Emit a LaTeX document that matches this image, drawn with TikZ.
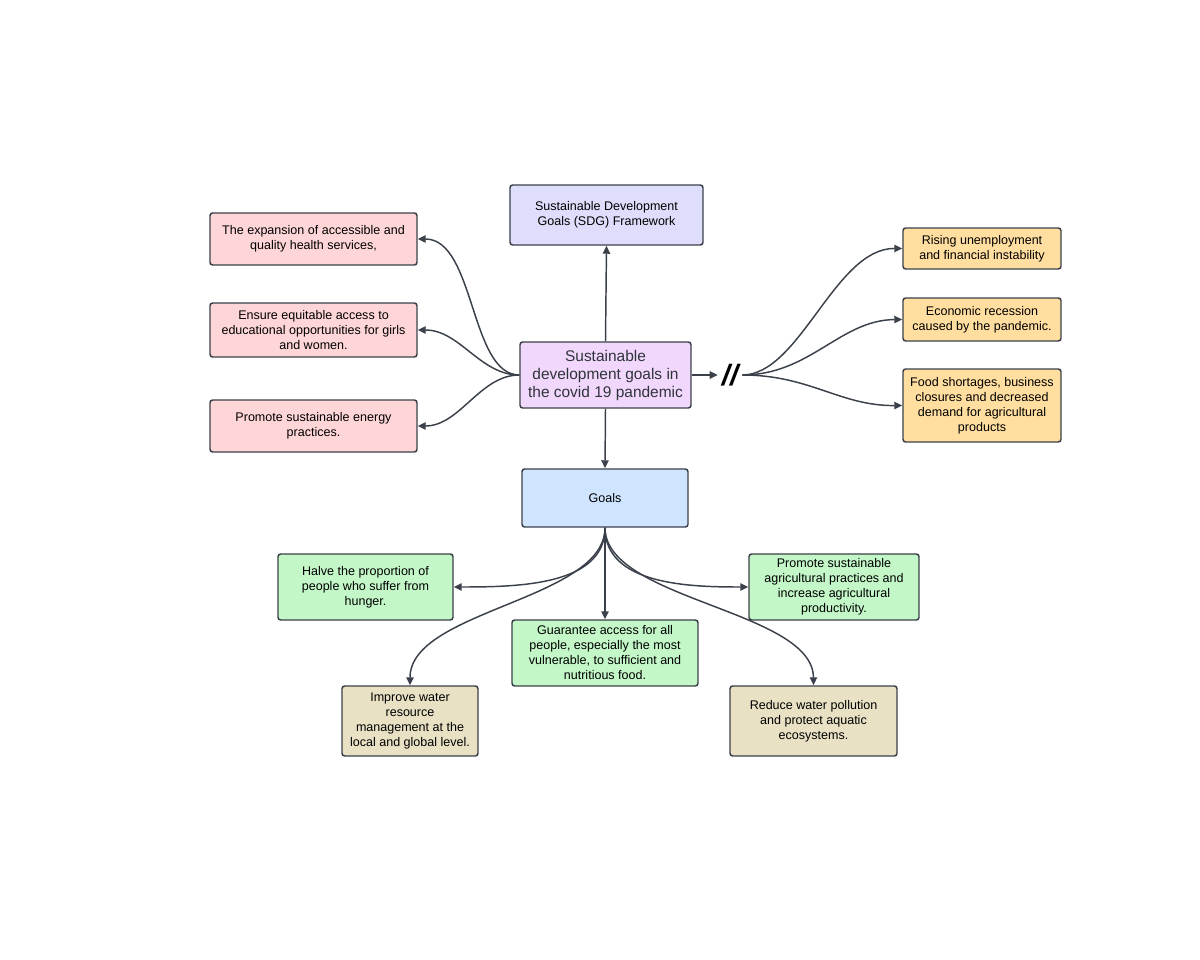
\documentclass[tikz,border=0pt]{standalone}
\usepackage{fontspec}
\setmainfont{Liberation Sans}
\usetikzlibrary{arrows.meta}
\definecolor{ln}{HTML}{3B414A}
\definecolor{cSDG}{HTML}{DEDEFC}
\definecolor{cRed}{HTML}{FFD6D8}
\definecolor{cCen}{HTML}{F2D7FC}
\definecolor{cGoal}{HTML}{CFE4FF}
\definecolor{cOr}{HTML}{FFDEA0}
\definecolor{cGr}{HTML}{C3F7C8}
\definecolor{cTan}{HTML}{E8E1C4}
\tikzset{
  box/.style={draw=ln, line width=1.1pt, rounded corners=2pt, align=center, inner sep=2pt,
    font=\fontsize{9.4}{11.25}\selectfont, text=black},
  conn/.style={draw=ln, line width=1.1pt, -{Triangle[length=6pt,width=5.5pt]}},
}
\begin{document}
\begin{tikzpicture}[x=0.75pt,y=-0.75pt]
\useasboundingbox (0,0) rectangle (1200,960);
\node[box, fill=cSDG, minimum width=144.75pt, minimum height=45pt] (sdg) at (606.5,215) {Sustainable Development\\Goals (SDG) Framework};
\node[box, fill=cRed, minimum width=155.25pt, minimum height=39pt] (r1) at (313.5,239) {The expansion of accessible and\\quality health services,};
\node[box, fill=cRed, minimum width=155.25pt, minimum height=40.5pt] (r2) at (313.5,330) {Ensure equitable access to\\educational opportunities for girls\\and women.};
\node[box, fill=cRed, minimum width=155.25pt, minimum height=39pt] (r3) at (313.5,426) {Promote sustainable energy\\practices.};
\node[box, fill=cCen, minimum width=128.25pt, minimum height=49.5pt, font=\fontsize{11.6}{13.5}\selectfont, text=ln!80!black] (c) at (605.5,375) {Sustainable\\development goals in\\the covid 19 pandemic};
\node[box, fill=cGoal, minimum width=124.5pt, minimum height=43.5pt] (g) at (605,498) {Goals};
\node[box, fill=cOr, minimum width=118.5pt, minimum height=30.75pt] (o1) at (982,248.5) {Rising unemployment\\and financial instability};
\node[box, fill=cOr, minimum width=118.5pt, minimum height=32.25pt] (o2) at (982,319.5) {Economic recession\\caused by the pandemic.};
\node[box, fill=cOr, minimum width=118.5pt, minimum height=54.75pt] (o3) at (982,405.5) {Food shortages, business\\closures and decreased\\demand for agricultural\\products};
\node[box, fill=cGr, minimum width=131.25pt, minimum height=49.5pt] (h) at (365.5,587) {Halve the proportion of\\people who suffer from\\hunger.};
\node[box, fill=cGr, minimum width=139.5pt, minimum height=49.5pt] (gu) at (605,653) {Guarantee access for all\\people, especially the most\\vulnerable, to sufficient and\\nutritious food.};
\node[box, fill=cGr, minimum width=127.5pt, minimum height=49.5pt] (pa) at (834,587) {Promote sustainable\\agricultural practices and\\increase agricultural\\productivity.};
\node[box, fill=cTan, minimum width=102pt, minimum height=52.5pt] (iw) at (410,721) {Improve water\\resource\\management at the\\local and global level.};
\node[box, fill=cTan, minimum width=125.25pt, minimum height=52.5pt] (rw) at (813.5,721) {Reduce water pollution\\and protect aquatic\\ecosystems.};
\node[inner sep=0pt, minimum width=18pt, minimum height=18pt, text=black] (brk) at (730,375) {\raisebox{-1.5pt}{\fontsize{22}{22}\selectfont\bfseries\itshape //}};
% connectors
\draw[conn] (c.north) -- (sdg.south);
\draw[conn] (c.south) -- (g.north);
\draw[conn] (c.east) -- (brk.west);
\draw[conn] (c.west) .. controls (470,375) and (475,239) .. (r1.east);
\draw[conn] (c.west) .. controls (480,375) and (460,330) .. (r2.east);
\draw[conn] (c.west) .. controls (480,375) and (460,426) .. (r3.east);
\draw[conn] (brk.east) .. controls (800,375) and (835,248) .. (o1.west);
\draw[conn] (brk.east) .. controls (810,375) and (840,320) .. (o2.west);
\draw[conn] (brk.east) .. controls (810,375) and (840,406) .. (o3.west);
\draw[conn] (g.south) .. controls (605,585) and (520,587) .. (h.east);
\draw[conn] (g.south) -- (gu.north);
\draw[conn] (g.south) .. controls (605,585) and (690,587) .. (pa.west);
\draw[conn] (g.south) .. controls (605,600) and (410,610) .. (iw.north);
\draw[conn] (g.south) .. controls (605,600) and (813,610) .. (rw.north);
\end{tikzpicture}
\end{document}
